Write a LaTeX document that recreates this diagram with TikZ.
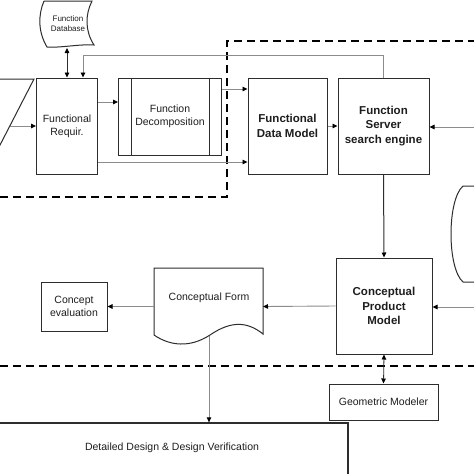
\documentclass[tikz,border=0pt]{standalone}
\usepackage{fontspec}
\setmainfont{Liberation Sans}
\usetikzlibrary{arrows.meta}
\definecolor{conn}{RGB}{140,140,140}
\definecolor{edgec}{RGB}{45,45,45}
\definecolor{txt}{RGB}{30,30,30}
\tikzset{
  box/.style={draw=edgec, line width=1pt, inner sep=0pt, align=center, text=txt,
    font=\fontsize{10.5}{13}\selectfont},
  boldbox/.style={box, font=\bfseries\fontsize{11.5}{14.5}\selectfont},
  shapeline/.style={draw=edgec, line width=1pt},
  conn/.style={draw=conn, line width=0.9pt},
  tip/.tip={Triangle[length=5pt,width=4.5pt,color=black]},
  arr/.style={conn, -tip},
  darr/.style={draw=edgec, line width=0.8pt, tip-tip},
  dkarr/.style={draw=edgec, line width=1pt, -tip},
  bound/.style={draw=black, line width=2pt, dash pattern=on 8pt off 5pt},
}
\begin{document}
\begin{tikzpicture}[x=1pt,y=-1pt]
\useasboundingbox (0,0) rectangle (474,474);
\clip (0,0) rectangle (474,474);
\fill[white] (0,0) rectangle (474,474);

% Function Database (stored-data shape)
\draw[shapeline] (44,1) -- (92,1) .. controls (85,15) and (85,31) .. (94,45)
  .. controls (78,44) and (62,48) .. (47,47) .. controls (38,32) and (38,15) .. (44,1);
\node[align=center, text=txt, font=\fontsize{8}{10}\selectfont] (DB) at (68,24) {Function\\Database};
\coordinate (DBb) at (67,48);

% partial parallelogram on the left
\draw[shapeline] (-10,79) -- (34,79) -- (-1,147);
\coordinate (PL) at (10,126);

% boxes
\node[box, minimum width=61pt, minimum height=96pt] (FR) at (67,126) {Functional\\Requir.};
\node[box, minimum width=103pt, minimum height=77pt] (FD) at (170,116.5) {Function\\Decomposition};
\draw[shapeline] ([xshift=13pt]FD.north west) -- ([xshift=13pt]FD.south west);
\draw[shapeline] ([xshift=-13pt]FD.north east) -- ([xshift=-13pt]FD.south east);
\node[boldbox, minimum width=79pt, minimum height=96pt] (FDM) at (287.5,126) {Functional\\Data Model};
\node[boldbox, minimum width=91pt, minimum height=96pt] (FS) at (383.5,126) {Function\\Server\\search engine};
\node[boldbox, minimum width=96pt, minimum height=96pt] (CPM) at (384,306) {Conceptual\\Product\\Model};
\node[box, minimum width=66pt, minimum height=49pt] (CE) at (74,306.5) {Concept\\evaluation};
\node[box, minimum width=109pt, minimum height=36pt] (GM) at (383.5,402) {Geometric Modeler};

% Conceptual Form (document shape)
\draw[shapeline] (154,268) -- (263,268) -- (263,334)
  .. controls (248,322) and (232,320) .. (210,335)
  .. controls (190,348) and (170,346) .. (154,335) -- cycle;
\node[align=center, text=txt, font=\fontsize{10.5}{13}\selectfont] (CF) at (209,298) {Conceptual Form};
\coordinate (CFr) at (263,306.5);
\coordinate (CFl) at (154,306.5);
\coordinate (CFb) at (209,336);

% Detailed design box
\node[draw=edgec, line width=1.3pt, minimum width=360pt, minimum height=70pt, inner sep=0pt] (DD) at (168,458) {};
\node[text=txt, font=\fontsize{10.5}{13}\selectfont] (DDt) at (172,448) {Detailed Design \& Design Verification};

% right partial stored-data shape
\draw[shapeline] (480,186) -- (463,186) .. controls (447,200) and (447,268) .. (463,282) -- (480,282);
\coordinate (R1) at (474,127);
\coordinate (R2) at (474,307);

% dashed boundaries
\draw[bound] (0,197) -- (227,197) -- (227,41) -- (474,41);
\draw[bound] (0,366) -- (474,366);

% connectors
\draw[darr] (DBb) -- (FR.north);
\draw[arr] (FS.north) -- ++(0,-22) -| ([xshift=16pt]FR.north);
\draw[arr] (PL) -- (PL -| FR.west);
\draw[arr] ([yshift=24pt]FR.east) coordinate (a0) -- (a0 -| FD.west);
\draw[arr] ([yshift=27.5pt]FD.east) coordinate (a1) -- (a1 -| FDM.west);
\draw[arr] ([yshift=-36pt]FR.east) coordinate (a2) -- (a2 -| FDM.west);
\draw[arr] (FDM.east) -- (FS.west);
\draw[arr] (R1) -- (R1 -| FS.east);
\draw[dkarr] (FS.south) -- (CPM.north);
\draw[arr] (R2) -- (R2 -| CPM.east);
\draw[arr] (CPM.west) -- (CFr);
\draw[arr] (CFl) -- (CFl -| CE.east);
\draw[arr] (CFb) -- (CFb |- DD.north);
\draw[darr] (CPM.south) -- (GM.north);
\end{tikzpicture}
\end{document}
